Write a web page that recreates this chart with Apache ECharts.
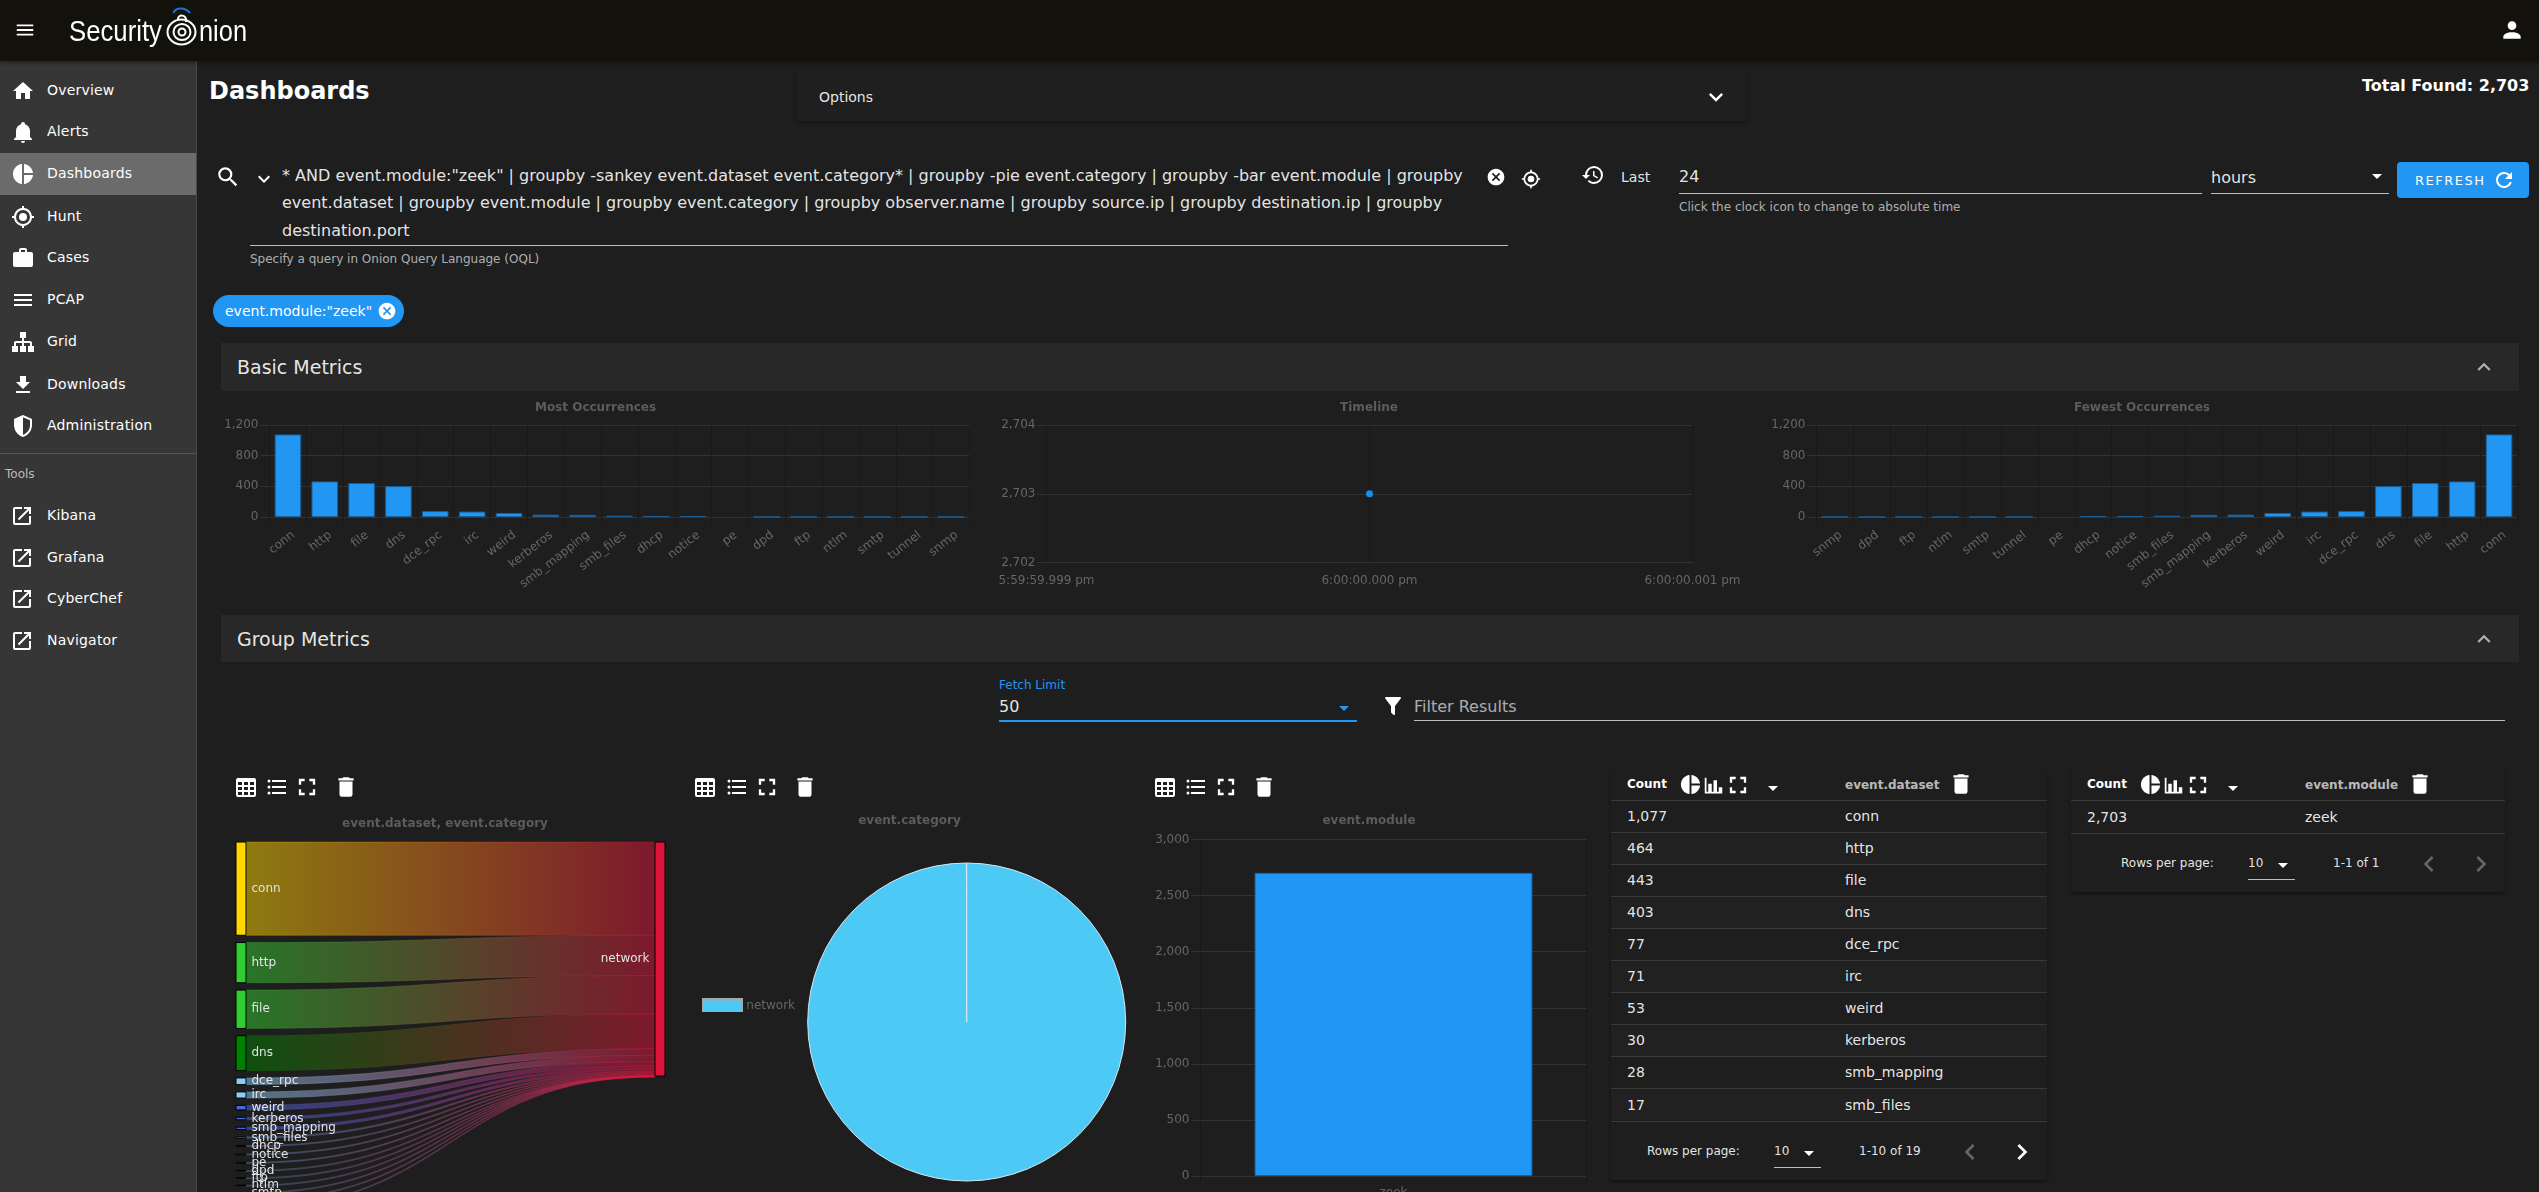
<!DOCTYPE html>
<html><head><meta charset="utf-8"><title>Dashboards</title>
<script src="https://cdn.jsdelivr.net/npm/echarts@6/dist/echarts.min.js"></script>
<style>
html,body{margin:0;padding:0;background:#1e1e1e;width:2539px;height:1192px;overflow:hidden;font-family:"DejaVu Sans",sans-serif}
#ui,#chart{position:absolute;left:0;top:0;width:2539px;height:1192px}
#ui div,#ui svg{position:absolute}
.t{white-space:nowrap;transform:translateY(-50%)}
</style></head><body>
<div id="ui"></div><div id="chart"></div>
<script>
// ---------- chart data ----------
const mostCategories=['conn','http','file','dns','dce_rpc','irc','weird','kerberos','smb_mapping','smb_files','dhcp','notice','pe','dpd','ftp','ntlm','smtp','tunnel','snmp'];
const mostValues=[1077,464,443,403,77,71,53,30,28,17,12,12,10,1,1,1,1,1,1];
const fewestCategories=['snmp','dpd','ftp','ntlm','smtp','tunnel','pe','dhcp','notice','smb_files','smb_mapping','kerberos','weird','irc','dce_rpc','dns','file','http','conn'];
const fewestValues=[1,1,1,1,1,1,10,12,12,17,28,30,53,71,77,403,443,464,1077];
const timelineLabels=['5:59:59.999 pm','6:00:00.000 pm','6:00:00.001 pm'];
const timelineValues=[null,2703,null];
const categoryNames=['network'];
const categoryValues=[2703];
const moduleNames=['zeek'];
const moduleValues=[2703];
const sankeyColors=['#FFD700','#32CD32','#32CD32','#008000','#87CEFA','#87CEFA','#4169E1','#4169E1','#4169E1','#4682B4','#2F5F8A','#2F5F8A','#2F5F8A','#1E3A5F','#1E3A5F','#1E3A5F','#1E3A5F','#1E3A5F','#1E3A5F'];
const sankeyTargetColor='#DC143C';
const tableDatasets=mostCategories.slice(0,10);
const tableCounts=['1,077','464','443','403','77','71','53','30','28','17'];
const navItems=['Overview','Alerts','Dashboards','Hunt','Cases','PCAP','Grid','Downloads','Administration'];
const toolItems=['Kibana','Grafana','CyberChef','Navigator'];
const queryLines=['* AND event.module:"zeek" | groupby -sankey event.dataset event.category* | groupby -pie event.category | groupby -bar event.module | groupby','event.dataset | groupby event.module | groupby event.category | groupby observer.name | groupby source.ip | groupby destination.ip | groupby','destination.port'];

// ---------- page chrome ----------
const P={home:'M10,20V14H14V20H19V12H22L12,3L2,12H5V20H10Z',bell:'M21,19V20H3V19L5,17V11C5,7.9 7.03,5.17 10,4.29C10,4.19 10,4.1 10,4A2,2 0 0,1 12,2A2,2 0 0,1 14,4C14,4.1 14,4.19 14,4.29C16.97,5.17 19,7.9 19,11V17L21,19M14,21A2,2 0 0,1 12,23A2,2 0 0,1 10,21',pie:'M11,2V22C5.9,21.5 2,17.2 2,12C2,6.8 5.9,2.5 11,2M13,2V11H22C21.5,6.2 17.8,2.5 13,2M13,13V22C17.7,21.5 21.5,17.8 22,13H13Z',cross:'M12,8A4,4 0 0,1 16,12A4,4 0 0,1 12,16A4,4 0 0,1 8,12A4,4 0 0,1 12,8M3.05,13H1V11H3.05C3.5,6.83 6.83,3.5 11,3.05V1H13V3.05C17.17,3.5 20.5,6.83 20.95,11H23V13H20.95C20.5,17.17 17.17,20.5 13,20.95V23H11V20.95C6.83,20.5 3.5,17.17 3.05,13M12,5A7,7 0 0,0 5,12A7,7 0 0,0 12,19A7,7 0 0,0 19,12A7,7 0 0,0 12,5Z',case:'M10,2H14A2,2 0 0,1 16,4V6H20A2,2 0 0,1 22,8V19A2,2 0 0,1 20,21H4C2.89,21 2,20.1 2,19V8C2,6.89 2.89,6 4,6H8V4C8,2.89 8.89,2 10,2M14,6V4H10V6H14Z',menu:'M3,6H21V8H3V6M3,11H21V13H3V11M3,16H21V18H3V16Z',grid:'M9,2V8H11V11H5C3.89,11 3,11.89 3,13V16H1V22H7V16H5V13H11V16H9V22H15V16H13V13H19V16H17V22H23V16H21V13C21,11.89 20.11,11 19,11H13V8H15V2H9Z',dl:'M5,20H19V18H5M19,9H15V3H9V9H5L12,16L19,9Z',shield:'M12,1L3,5V11C3,16.55 6.84,21.74 12,23C17.16,21.74 21,16.55 21,11V5L12,1M12,3.18L19,6.3V11.22C19,15.54 16,19.5 12,20.75V3.18Z',ext:'M14,3V5H17.59L7.76,14.83L9.17,16.24L19,6.41V10H21V3M19,19H5V5H12V3H5C3.89,3 3,3.9 3,5V19A2,2 0 0,0 5,21H19A2,2 0 0,0 21,19V12H19V19Z',search:'M9.5,3A6.5,6.5 0 0,1 16,9.5C16,11.11 15.41,12.59 14.44,13.73L14.71,14H15.5L20.5,19L19,20.5L14,15.5V14.71L13.73,14.44C12.59,15.41 11.11,16 9.5,16A6.5,6.5 0 0,1 3,9.5A6.5,6.5 0 0,1 9.5,3M9.5,5C7,5 5,7 5,9.5C5,12 7,14 9.5,14C12,14 14,12 14,9.5C14,7 12,5 9.5,5Z',down:'M7.41,8.58L12,13.17L16.59,8.58L18,10L12,16L6,10L7.41,8.58Z',up:'M7.41,15.41L12,10.83L16.59,15.41L18,14L12,8L6,14L7.41,15.41Z',close:'M12,2C17.53,2 22,6.47 22,12C22,17.53 17.53,22 12,22C6.47,22 2,17.53 2,12C2,6.47 6.47,2 12,2M15.59,7L12,10.59L8.41,7L7,8.41L10.59,12L7,15.59L8.41,17L12,13.41L15.59,17L17,15.59L13.41,12L17,8.41L15.59,7Z',hist:'M13.5,8H12V13L16.28,15.54L17,14.33L13.5,12.25V8M13,3A9,9 0 0,0 4,12H1L4.96,16.03L9,12H6A7,7 0 0,1 13,5A7,7 0 0,1 20,12A7,7 0 0,1 13,19C11.07,19 9.32,18.21 8.06,16.94L6.64,18.36C8.27,20 10.5,21 13,21A9,9 0 0,0 22,12A9,9 0 0,0 13,3',refresh:'M17.65,6.35C16.2,4.9 14.21,4 12,4A8,8 0 0,0 4,12A8,8 0 0,0 12,20C15.73,20 18.84,17.45 19.73,14H17.65C16.83,16.33 14.61,18 12,18A6,6 0 0,1 6,12A6,6 0 0,1 12,6C13.66,6 15.14,6.69 16.22,7.78L13,11H20V4L17.65,6.35Z',user:'M12,4A4,4 0 0,1 16,8A4,4 0 0,1 12,12A4,4 0 0,1 8,8A4,4 0 0,1 12,4M12,14C16.42,14 20,15.79 20,18V20H4V18C4,15.79 7.58,14 12,14Z',table:'M4,3H20A2,2 0 0,1 22,5V20A2,2 0 0,1 20,22H4A2,2 0 0,1 2,20V5A2,2 0 0,1 4,3M4,7V10H8V7H4M10,7V10H14V7H10M20,10V7H16V10H20M4,12V15H8V12H4M4,20H8V17H4V20M10,12V15H14V12H10M10,20H14V17H10V20M20,20V17H16V20H20M20,12H16V15H20V12Z',list:'M7,5H21V7H7V5M7,13V11H21V13H7M4,4.5A1.5,1.5 0 0,1 5.5,6A1.5,1.5 0 0,1 4,7.5A1.5,1.5 0 0,1 2.5,6A1.5,1.5 0 0,1 4,4.5M4,10.5A1.5,1.5 0 0,1 5.5,12A1.5,1.5 0 0,1 4,13.5A1.5,1.5 0 0,1 2.5,12A1.5,1.5 0 0,1 4,10.5M7,19V17H21V19H7M4,16.5A1.5,1.5 0 0,1 5.5,18A1.5,1.5 0 0,1 4,19.5A1.5,1.5 0 0,1 2.5,18A1.5,1.5 0 0,1 4,16.5Z',full:'M5,5H10V7H7V10H5V5M14,5H19V10H17V7H14V5M17,14H19V19H14V17H17V14M10,17V19H5V14H7V17H10Z',trash:'M19,4H15.5L14.5,3H9.5L8.5,4H5V6H19M6,19A2,2 0 0,0 8,21H16A2,2 0 0,0 18,19V7H6V19Z',bar:'M22,21H2V3H4V19H6V10H10V19H12V6H16V19H18V14H22V21Z',filter:'M14,12V19.88C14.04,20.18 13.94,20.5 13.71,20.71C13.32,21.1 12.69,21.1 12.3,20.71L10.29,18.7C10.06,18.47 9.96,18.16 10,17.87V12H9.97L4.21,4.62C3.87,4.19 3.95,3.56 4.38,3.22C4.57,3.08 4.78,3 5,3H19C19.22,3 19.43,3.08 19.62,3.22C20.05,3.56 20.13,4.19 19.79,4.62L14.03,12H14Z',drop:'M7,10L12,15L17,10H7Z',left:'M15.41,16.58L10.83,12L15.41,7.41L14,6L8,12L14,18L15.41,16.58Z',right:'M8.59,16.58L13.17,12L8.59,7.41L10,6L16,12L10,18L8.59,16.58Z'};
const ui=document.getElementById('ui');
function R(x,y,w,h,bg,extra){const d=document.createElement('div');d.style.cssText=`left:${x}px;top:${y}px;width:${w}px;height:${h}px;background:${bg};${extra||''}`;ui.appendChild(d);return d;}
function T(s,x,y,size,color,extra){const d=document.createElement('div');d.className='t';d.textContent=s;d.style.cssText=`left:${x}px;top:${y}px;font-size:${size}px;color:${color};${extra||''}`;ui.appendChild(d);return d;}
function I(n,cx,cy,size,color){const ns='http://www.w3.org/2000/svg',s=document.createElementNS(ns,'svg');s.setAttribute('viewBox','0 0 24 24');s.style.cssText=`left:${cx-size/2}px;top:${cy-size/2}px;width:${size}px;height:${size}px`;const p=document.createElementNS(ns,'path');p.setAttribute('d',P[n]);p.setAttribute('fill',color);s.appendChild(p);ui.appendChild(s);return s;}
const W='#ffffff',TXT='rgba(255,255,255,.9)',DIM='rgba(255,255,255,.65)',BLUE='#2196f3',LINE='#bdbdbd';
// top bar
R(0,0,2539,61,'#12110c','box-shadow:0 2px 4px rgba(0,0,0,.4);z-index:3');
I('menu',25,30,22,W).style.zIndex=4;
const logo=document.createElementNS('http://www.w3.org/2000/svg','svg');
logo.style.cssText='left:60px;top:0;width:200px;height:60px;z-index:4';logo.setAttribute('viewBox','0 0 200 60');
logo.innerHTML='<text x="9" y="41" font-family="Liberation Sans Narrow,Liberation Sans" font-size="30" fill="#fff" textLength="93" lengthAdjust="spacingAndGlyphs">Security</text><text x="139" y="41" font-family="Liberation Sans Narrow,Liberation Sans" font-size="30" fill="#fff" textLength="48" lengthAdjust="spacingAndGlyphs">nion</text><g fill="none" stroke="#fff" stroke-width="2"><ellipse cx="121.5" cy="32" rx="14" ry="12.5"/><ellipse cx="122" cy="32" rx="8.5" ry="8"/><ellipse cx="122" cy="32" rx="3.5" ry="3.5"/><path d="M118 19C118 14 127 14 126 22"/></g><path d="M113.5 13C115 8 124 6 130 13" fill="none" stroke="#1976d2" stroke-width="2"/>';
ui.appendChild(logo);
I('user',2512,30,26,W).style.zIndex=4;
// sidebar
R(0,61,197,1131,'#363636','border-right:1px solid #4a4a4a;box-sizing:border-box');
R(0,153,196,42,'#6b6b6b');
const navIcons=['home','bell','pie','cross','case','menu','grid','dl','shield'];
const navY=[89.5,131,173,215.5,257,299,341,383.5,425];
navItems.forEach((s,i)=>{I(navIcons[i],23,navY[i]+1,24,W);T(s,47,navY[i],14,'#fff','letter-spacing:.2px');});
R(0,453,196,1,'#555');
T('Tools',5,474,12,'#bdbdbd');
const toolY=[514.5,556.5,598,640];
toolItems.forEach((s,i)=>{I('ext',22,toolY[i]+1,24,W);T(s,47,toolY[i],14,'#fff','letter-spacing:.2px');});
// header row
T('Dashboards',209,90.5,24,W,'font-weight:700');
R(796,68,950,53,'#1f1f1f','box-shadow:0 2px 3px rgba(0,0,0,.35)');
T('Options',819,96.5,14,TXT);
I('down',1716,97,28,W);
T('Total Found: 2,703',2362,84.5,16,W,'font-weight:700');
// query
I('search',228,177,26,W);I('down',264,179,24,W);
queryLines.forEach((s,i)=>T(s,282,[174.5,202,230][i],16,TXT));
R(250,245,1258,1,LINE);
T('Specify a query in Onion Query Language (OQL)',250,258.5,12,DIM);
I('close',1495.5,177,20,W);I('cross',1531,179,20,W);
I('hist',1593,175,24,W);T('Last',1621,176.5,14,TXT);
T('24',1679,176,16,TXT);R(1679,193,523,1,LINE);
T('Click the clock icon to change to absolute time',1679,206.5,12,DIM);
T('hours',2211,176.5,16,TXT);R(2211,193,178,1,LINE);I('drop',2377,176,24,W);
R(2396.5,162,132.5,36,BLUE,'border-radius:4px');
T('REFRESH',2415,180,13,W,'letter-spacing:1.5px');I('refresh',2504,180,24,W);
// chip
R(213,295,191,32,BLUE,'border-radius:16px');
T('event.module:"zeek"',225,311,14,W);I('close',387,311,20,W);
// sections
R(221,343,2298,48,'#282828');T('Basic Metrics',237,367,19,TXT);I('up',2484,367,26,DIM);
R(221,615,2298,47,'#282828');T('Group Metrics',237,639,19,TXT);I('up',2484,639,26,DIM);
// filter row
T('Fetch Limit',999,685,12,BLUE);T('50',999,706,16,TXT);R(999,719.5,358,2,BLUE);I('drop',1344,708,24,BLUE);
I('filter',1393,706,24,W);T('Filter Results',1414,706,16,DIM);R(1414,720,1091,1,LINE);
// chart toolbars
[[246,277,307,346],[705,737,767,805],[1165,1196,1226,1264]].forEach(a=>{I('table',a[0],787,24,W);I('list',a[1],787,24,W);I('full',a[2],787,28,W);I('trash',a[3],787,26,W);});
// tables
function head(x0,x1,name){
 T('Count',x0+16,784,12,W,'font-weight:700');
 I('pie',x0+79,784,23,W);I('bar',x0+102,785,21,W);I('full',x0+127,785,28,W);I('drop',x0+162,788,24,W);
 T(name,x1,784.5,12,'rgba(255,255,255,.7)','font-weight:700');
}
function foot(x0,y,range,range_x,cl,cr,prev,next){
 T('Rows per page:',x0+36,y,12,TXT);T('10',x0+163,y,12,TXT);I('drop',x0+198,y+2,24,W);R(x0+163,y+16,47,1,LINE);
 T(range,range_x,y,12,TXT);I('left',cl,y+1,32,prev);I('right',cr,y+1,32,next);
}
R(1611,770,436,410,'#1e1e1e','box-shadow:0 2px 3px rgba(0,0,0,.4)');
head(1611,1845,'event.dataset');I('trash',1961,784,26,W);
R(1611,800,436,1,'#3a3a3a');
tableCounts.forEach((c,i)=>{const y=816.3+32*i+(i==9?.7:0);if(i%2)R(1611,801+32*i,436,31,'#212121');T(c,1627,y,14,TXT);T(tableDatasets[i],1845,y,14,TXT);R(1611,832+32*i+(i==9?1:0),436,1,'#3a3a3a');});
foot(1611,1150.5,'1-10 of 19',1859,1970,2022,'#666',W);
R(2071,770,434,122,'#1e1e1e','box-shadow:0 2px 3px rgba(0,0,0,.4)');
head(2071,2305,'event.module');I('trash',2420,784,26,W);
R(2071,800,434,1,'#3a3a3a');T('2,703',2087,817,14,TXT);T('zeek',2305,817,14,TXT);R(2071,833,434,1,'#3a3a3a');
foot(2085,863,'1-1 of 1',2333,2429,2481,'#666','#666');
// legend swatch frame (the swatch itself is the chart's legend)
R(701.8,998.3,41,13.4,'#a8a8a8');

// ---------- charts ----------
const FONT='"DejaVu Sans",sans-serif',GREY='#666666',H='#333333',V='#191919';
function bar(x,y,cats,vals){return{type:'bar',xAxisIndex:x,yAxisIndex:y,data:vals.map((v,i)=>cats[i]==='pe'?{value:v,itemStyle:{opacity:0}}:v),barWidth:'72%',itemStyle:{color:'#2196f3',borderColor:'#1c5f96',borderWidth:1},silent:true,animation:false};}
function xAxis(g,cats,rot,tickLen){return{type:'category',gridIndex:g,data:cats,axisLine:{show:true,lineStyle:{color:H}},axisTick:{show:true,length:tickLen,lineStyle:{color:V}},splitLine:{show:true,lineStyle:{color:V}},axisLabel:rot?{interval:0,rotate:rot,color:GREY,fontFamily:FONT,fontSize:12,margin:21,padding:[0,-7,0,0],hideOverlap:false}:{interval:0,color:GREY,fontFamily:FONT,fontSize:12,margin:11,hideOverlap:false}};}
function yAxis(g,min,max,iv){return{type:'value',gridIndex:g,min,max,interval:iv,axisLine:{show:true,lineStyle:{color:V}},axisTick:{show:true,length:9,lineStyle:{color:H}},splitLine:{show:true,lineStyle:{color:H}},axisLabel:{color:GREY,fontFamily:FONT,fontSize:12,margin:11}};}
const titleAt=(text,x,y)=>({text,left:x,top:y,padding:0,textAlign:'center',textVerticalAlign:'middle',textStyle:{color:'#5c5c5c',fontFamily:FONT,fontSize:12,fontWeight:'bold'}});
const sankeyNodes=mostCategories.map((n,i)=>({name:n,itemStyle:{color:sankeyColors[i]}})).concat([{name:categoryNames[0],itemStyle:{color:sankeyTargetColor},label:{position:'left'}}]);
const sankeyLinks=mostCategories.map((n,i)=>({source:n,target:categoryNames[0],value:mostValues[i],
  lineStyle:{borderWidth:.6,borderColor:new echarts.graphic.LinearGradient(0,0,1,0,[{offset:0,color:i>9?'#6f93c0':sankeyColors[i]},{offset:1,color:sankeyTargetColor}])}}));
const option={
 animation:false,backgroundColor:'transparent',
 title:[titleAt('Most Occurrences',595.5,408),titleAt('Timeline',1369,408),titleAt('Fewest Occurrences',2142,408),titleAt('event.dataset, event.category',445,823.5),titleAt('event.category',909.5,821),titleAt('event.module',1369,821)],
 grid:[
  {left:269.5,top:425,width:700,height:92,outerBoundsMode:'none'},
  {left:1046.5,top:425,width:646,height:137.5,outerBoundsMode:'none'},
  {left:1816.5,top:425,width:701,height:92,outerBoundsMode:'none'},
  {left:1200.5,top:839.5,width:386,height:336.5,outerBoundsMode:'none'}],
 xAxis:[xAxis(0,mostCategories,38,8),
  {type:'category',gridIndex:1,boundaryGap:false,data:timelineLabels,axisLine:{show:true,lineStyle:{color:H}},axisTick:{show:false},splitLine:{show:true,lineStyle:{color:V}},axisLabel:{interval:0,color:GREY,fontFamily:FONT,fontSize:12,margin:12,hideOverlap:false,alignMinLabel:'center',alignMaxLabel:'center'}},
  xAxis(2,fewestCategories,38,8),xAxis(3,moduleNames,0,7)],
 yAxis:[yAxis(0,0,1200,400),yAxis(1,2702,2704,1),yAxis(2,0,1200,400),yAxis(3,0,3000,500)],
 legend:{show:true,left:703.3,top:999.8,padding:0,itemWidth:38,itemHeight:10.4,icon:'rect',data:categoryNames,textStyle:{color:GREY,fontFamily:FONT,fontSize:12},itemStyle:{borderWidth:0}},
 series:[
  bar(0,0,mostCategories,mostValues),
  {type:'line',xAxisIndex:1,yAxisIndex:1,data:timelineValues,symbol:'circle',symbolSize:7,showAllSymbol:true,itemStyle:{color:'#1a8fe8'},lineStyle:{color:'#1a8fe8'},silent:true},
  bar(2,2,fewestCategories,fewestValues),
  bar(3,3,moduleNames,moduleValues),
  {type:'sankey',left:236,top:842,width:429,height:365.5,nodeWidth:10,nodeGap:7.3,layoutIterations:0,draggable:false,silent:true,data:sankeyNodes,links:sankeyLinks,
   label:{show:true,position:'right',distance:5,color:'#e4e4e4',fontFamily:FONT,fontSize:12,textBorderWidth:0},
   itemStyle:{borderColor:'#000',borderWidth:1},
   lineStyle:{color:'gradient',opacity:.5,curveness:.5},emphasis:{disabled:true}},
  {type:'pie',name:'event.category',center:[966.7,1022],radius:[0,159],startAngle:90,endAngle:-269.9,silent:true,label:{show:false},labelLine:{show:false},
   data:categoryNames.map((n,i)=>({name:n,value:categoryValues[i]})),itemStyle:{color:'#4dc9f6',borderColor:'#d5e9f2',borderWidth:1}}
 ]
};
const chart=echarts.init(document.getElementById('chart'),null,{renderer:'canvas',width:2539,height:1192});
chart.setOption(option);
</script></body></html>
